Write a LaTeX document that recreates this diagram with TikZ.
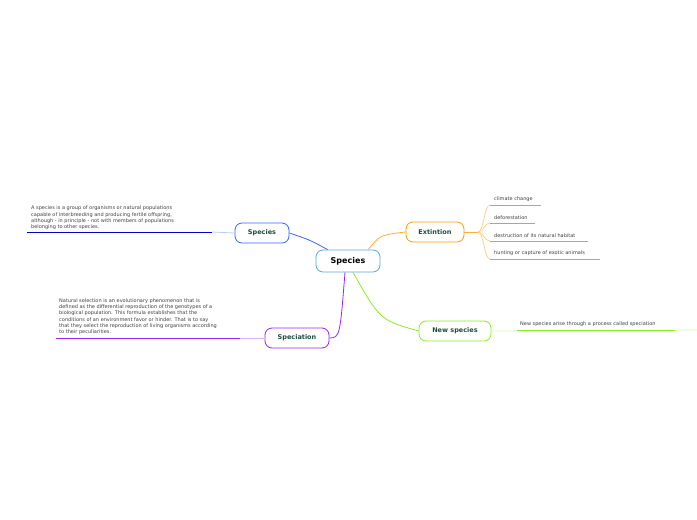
\documentclass[tikz,border=0pt]{standalone}
\usepackage{fontspec}
\setmainfont{DejaVu Sans}
\definecolor{topicink}{HTML}{1F4D3D}
\definecolor{bluebr}{HTML}{3366FF}
\definecolor{orangebr}{HTML}{FF9900}
\definecolor{greenbr}{HTML}{88EE22}
\definecolor{purplebr}{HTML}{9922EE}
\definecolor{rootbr}{HTML}{5AA8E0}
\begin{document}
\begin{tikzpicture}[x=1pt,y=-1pt]
    % Stili
    \tikzstyle{root}=[draw=rootbr, thick, fill=white, rounded corners=7pt, minimum width=64pt, minimum height=22pt, font=\fontsize{8}{9}\selectfont\bfseries]
    \tikzstyle{topic}=[thick, fill=white, rounded corners=7pt, minimum height=20pt, text=topicink, font=\fontsize{6.5}{8}\selectfont\bfseries]
    \tikzstyle{note}=[align=left, anchor=south west, inner sep=1pt, text=black!75, font=\fontsize{5}{6.3}\selectfont]
    \tikzstyle{branch}=[thick]
    \useasboundingbox (0,0) rectangle (697,520);

    % Nodo centrale
    \node[root] (species) at (348,261) {Species};

    % Rami principali
    \node[topic, draw=bluebr, minimum width=54pt] (def) at (262,233) {Species};
    \node[topic, draw=orangebr, minimum width=58pt] (ext) at (435,232) {Extintion};
    \node[topic, draw=greenbr, minimum width=72pt] (newsp) at (455,331) {New species};
    \node[topic, draw=purplebr, minimum width=64pt] (spec) at (297,338) {Speciation};

    \draw[branch, bluebr] (species.north west) ++(12,0) .. controls (310,240) .. (def.east);
    \draw[branch, orangebr!80] (species.north east) ++(-12,0) .. controls (380,235) .. (ext.west);
    \draw[branch, greenbr] (species.south) ++(5,0) .. controls (380,320) .. (newsp.west);
    \draw[branch, purplebr] (species.south) ++(-3,0) .. controls (340,335) and (340,338) .. (spec.east);

    % Note di Species
    \coordinate (defl) at (27,232);
    \draw[branch, bluebr!35] (def.west) -- (212,232);
    \draw[branch, blue!80!black] (212,232) -- (defl);
    \node[note] (deftxt) at (30,231) {A species is a group of organisms or natural populations\\capable of interbreeding and producing fertile offspring,\\although - in principle - not with members of populations\\belonging to other species.};

    % Note di Speciation
    \coordinate (specl) at (56,338);
    \draw[branch, purplebr!35] (spec.west) -- (240,338);
    \draw[branch, purplebr] (240,338) -- (specl);
    \node[note] (spectxt) at (58,336) {Natural selection is an evolutionary phenomenon that is\\defined as the differential reproduction of the genotypes of a\\biological population. This formula establishes that the\\conditions of an environment favor or hinder. That is to say\\that they select the reproduction of living organisms according\\to their peculiarities.};

    % Note di New species
    \coordinate (newr) at (697,330);
    \draw[branch, greenbr!35] (newsp.east) -- (newr);
    \draw[branch, greenbr] (517,330) -- (675,330);
    \node[note] (newtxt) at (519,328) {New species arise through a process called speciation};

    % Cause di estinzione
    \coordinate (hub) at (478,232);
    \draw[branch, orangebr!80] (ext.east) -- (hub);
    \foreach \y/\w/\t/\n in {205/541/climate change/a, 223/535/deforestation/b, 241/588/destruction of its natural habitat/c, 259/600/hunting or capture of exotic animals/d}{
        \coordinate (c\n) at (490,\y);
        \draw[orangebr!45, thick] (hub) .. controls (484,232) and (484,\y) .. (c\n);
        \draw[draw=orangebr, line width=1pt] (c\n) -- (\w,\y);
        \node[note] (t\n) at (493,\y-2) {\t};
    }
\end{tikzpicture}
\end{document}
